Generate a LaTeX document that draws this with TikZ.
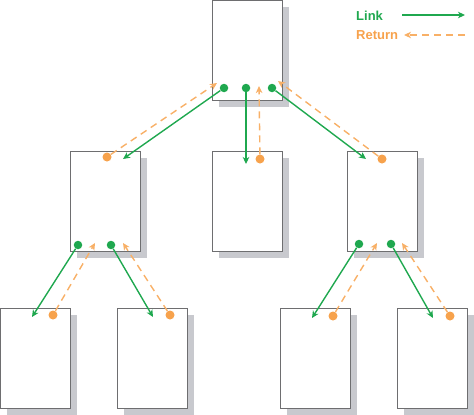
\documentclass[tikz,border=0pt]{standalone}
\usepackage{fontspec}
\setmainfont{Liberation Sans}
\usetikzlibrary{arrows.meta,shadows}

\definecolor{linkgreen}{HTML}{1FA84F}
\definecolor{retorange}{HTML}{F7A24C}
\definecolor{boxgray}{HTML}{6E6E70}
\definecolor{shadegray}{HTML}{C8C9CE}

\begin{document}
\begin{tikzpicture}[x=1pt,y=-1pt,
  pagebox/.style={draw=boxgray, line width=1.2pt, fill=white, minimum width=70pt, minimum height=100pt, inner sep=0pt,
    general shadow={fill=shadegray, shadow xshift=6pt, shadow yshift=-6pt}},
  gdot/.style={circle, fill=linkgreen, minimum size=8.5pt, inner sep=0pt},
  odot/.style={circle, fill=retorange, minimum size=9pt, inner sep=0pt},
  link/.style={draw=linkgreen, line width=1.4pt, -{Stealth[length=7pt,width=6.5pt,inset=2pt]}},
  ret/.style={draw=retorange!85, line width=1.4pt, dash pattern=on 7pt off 5pt, -{Stealth[length=7pt,width=6.5pt,inset=2pt]}}]

\useasboundingbox (0,0) rectangle (474,415);

% boxes
\node[pagebox] (t) at (247.5,50.5) {};
\node[pagebox] (ml) at (105.5,201.5) {};
\node[pagebox] (mc) at (247.5,201.5) {};
\node[pagebox] (mr) at (382.5,201.5) {};
\node[pagebox] (b1) at (35.5,358.5) {};
\node[pagebox] (b2) at (152.5,358.5) {};
\node[pagebox] (b3) at (315.5,358.5) {};
\node[pagebox] (b4) at (432.5,358.5) {};

% link dots
\node[gdot] (tg1) at (224,88) {};
\node[gdot] (tg2) at (246,88) {};
\node[gdot] (tg3) at (272,88) {};
\node[gdot] (mlg1) at (78,245) {};
\node[gdot] (mlg2) at (111,245) {};
\node[gdot] (mrg1) at (359,244) {};
\node[gdot] (mrg2) at (391,244) {};

% return dots
\node[odot] (mlo) at (107,157) {};
\node[odot] (mco) at (260,159) {};
\node[odot] (mro) at (382,159) {};
\node[odot] (b1o) at (53,315) {};
\node[odot] (b2o) at (170,315) {};
\node[odot] (b3o) at (333,316) {};
\node[odot] (b4o) at (450,316) {};

% arrow ends
\coordinate (mlin) at (123,159);
\coordinate (mcin) at (246,164);
\coordinate (mrin) at (366,159);
\coordinate (b1in) at (32,317);
\coordinate (b2in) at (153,317);
\coordinate (b3in) at (312,318);
\coordinate (b4in) at (433,318);
\coordinate (tr1) at (217,83);
\coordinate (tr2) at (259,86);
\coordinate (tr3) at (278,81);
\coordinate (mlr1) at (95,243);
\coordinate (mlr2) at (123,243);
\coordinate (mrr1) at (377,243);
\coordinate (mrr2) at (402,243);

\draw[link] (tg1) -- (mlin);
\draw[link] (tg2) -- (mcin);
\draw[link] (tg3) -- (mrin);
\draw[link] (mlg1) -- (b1in);
\draw[link] (mlg2) -- (b2in);
\draw[link] (mrg1) -- (b3in);
\draw[link] (mrg2) -- (b4in);

\draw[ret] (mlo) -- (tr1);
\draw[ret] (mco) -- (tr2);
\draw[ret] (mro) -- (tr3);
\draw[ret] (b1o) -- (mlr1);
\draw[ret] (b2o) -- (mlr2);
\draw[ret] (b3o) -- (mrr1);
\draw[ret] (b4o) -- (mrr2);

% legend
\node[anchor=west, text=linkgreen, font=\fontsize{13}{15}\selectfont\bfseries, inner sep=0pt] (linklabel) at (356,16) {Link};
\node[anchor=west, text=retorange, font=\fontsize{13}{15}\selectfont\bfseries, inner sep=0pt] (retlabel) at (356,35.5) {Return};
\coordinate (la) at (402,15);
\coordinate (lb) at (465,15);
\coordinate (ra) at (465,35);
\coordinate (rb) at (404,35);
\draw[link] (la) -- (lb);
\draw[ret] (ra) -- (rb);
\end{tikzpicture}
\end{document}
